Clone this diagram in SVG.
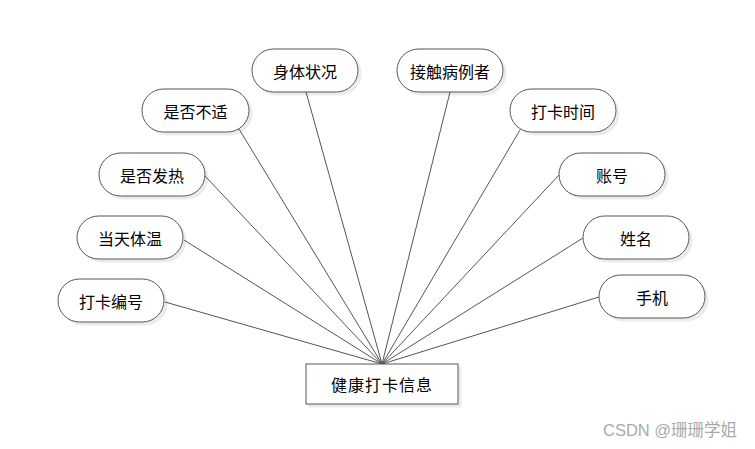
<svg xmlns="http://www.w3.org/2000/svg" width="755" height="449" viewBox="0 0 755 449">
<defs>
<filter id="sh" x="-10%" y="-10%" width="130%" height="140%">
<feOffset in="SourceAlpha" dx="3" dy="3" result="o"/>
<feFlood flood-color="#000" flood-opacity="0.08"/>
<feComposite in2="o" operator="in" result="s"/>
<feMerge><feMergeNode in="s"/><feMergeNode in="SourceGraphic"/></feMerge>
</filter>
</defs>
<style>
.n{fill:#fff;stroke:#555;stroke-width:1;filter:url(#sh)}
.t{font-family:"Noto Sans CJK SC","Microsoft YaHei",sans-serif;font-size:16px;fill:#000;text-anchor:middle;dominant-baseline:central}
.e line{stroke:#555;stroke-width:1}
.wm{font-family:"Liberation Sans","Noto Sans CJK SC",sans-serif;font-size:16.5px;fill:#aaa}
</style>
<rect width="755" height="449" fill="#fff"/>
<g class="e" id="connectors">
<line x1="306" y1="92" x2="382" y2="364"/>
<line x1="239" y1="129" x2="382" y2="364"/>
<line x1="205" y1="176" x2="382" y2="364"/>
<line x1="184" y1="240" x2="382" y2="364"/>
<line x1="165" y1="302" x2="382" y2="364"/>
<line x1="450" y1="92" x2="382" y2="364"/>
<line x1="520" y1="130" x2="382" y2="364"/>
<line x1="559" y1="175" x2="382" y2="364"/>
<line x1="583" y1="238" x2="382" y2="364"/>
<line x1="599" y1="297" x2="382" y2="364"/>
</g>
<g id="main"><rect class="n" x="306" y="364" width="152" height="40"/><text class="t" x="382" y="384" letter-spacing="1">健康打卡信息</text></g>
<g id="a1"><rect class="n" x="252" y="49" width="106" height="43" rx="21.5"/><text class="t" x="305" y="70.5">身体状况</text></g>
<g id="a2"><rect class="n" x="142" y="89" width="107" height="43" rx="21.5"/><text class="t" x="195.5" y="110.5">是否不适</text></g>
<g id="a3"><rect class="n" x="99" y="153" width="106" height="43" rx="21.5"/><text class="t" x="152" y="174.5">是否发热</text></g>
<g id="a4"><rect class="n" x="77" y="216" width="106" height="43" rx="21.5"/><text class="t" x="130" y="237.5">当天体温</text></g>
<g id="a5"><rect class="n" x="58" y="279" width="106" height="43" rx="21.5"/><text class="t" x="111" y="300.5">打卡编号</text></g>
<g id="a6"><rect class="n" x="397" y="49" width="106" height="43" rx="21.5"/><text class="t" x="450" y="70.5">接触病例者</text></g>
<g id="a7"><rect class="n" x="510" y="89" width="106" height="43" rx="21.5"/><text class="t" x="563" y="110.5">打卡时间</text></g>
<g id="a8"><rect class="n" x="559" y="153" width="106" height="43" rx="21.5"/><text class="t" x="612" y="174.5">账号</text></g>
<g id="a9"><rect class="n" x="583" y="216" width="106" height="43" rx="21.5"/><text class="t" x="636" y="237.5">姓名</text></g>
<g id="a10"><rect class="n" x="599" y="275" width="106" height="43" rx="21.5"/><text class="t" x="652" y="296.5">手机</text></g>
<text class="wm" x="603" y="436">CSDN @珊珊学姐</text>
</svg>
